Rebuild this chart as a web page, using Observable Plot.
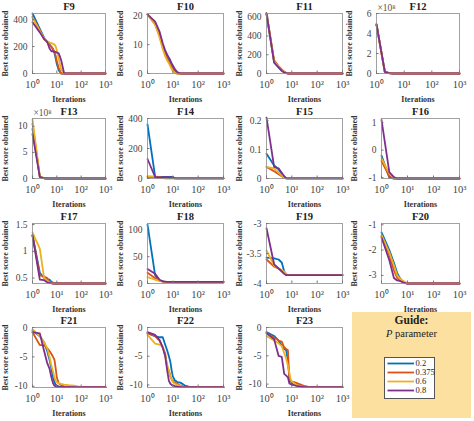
<!DOCTYPE html>
<html><head><meta charset="utf-8">
<script src="https://cdn.jsdelivr.net/npm/d3@7"></script>
<script src="https://cdn.jsdelivr.net/npm/@observablehq/plot@0.6"></script>
<style>
body{margin:0;background:#fff;}
#fig{position:relative;width:474px;height:421px;overflow:hidden;font-family:"Liberation Serif","Times New Roman",serif;background:#fff;}
#fig svg{position:absolute;overflow:visible;}
.guide{position:absolute;left:352px;top:312px;width:119px;height:106px;background:#fbe0a0;}
.gtitle{position:absolute;left:0;width:119px;top:2px;text-align:center;font-weight:bold;font-size:11.5px;color:#222;}
.gsub{position:absolute;left:0;width:119px;top:16px;text-align:center;font-size:10.5px;color:#222;}
.legend{position:absolute;left:32px;top:45px;width:51px;height:42px;background:#fff;border:0.8px solid #555;box-sizing:border-box;}
</style></head>
<body><div id="fig"></div>
<script>
// Common iteration grid (x values); each series lists values on this grid until it reaches its final plateau, which holds to iteration 1000
const iters = [1,2,3,4,5,6,7,8,9,10,12,15,20,30,50,100,1000];
const seriesNames = ["0.2","0.375","0.6","0.8"];
const seriesColors = ["#0072BD","#D95319","#EDB120","#7E2F8E"];
const funcNames = ["F9","F10","F11","F12","F13","F14","F15","F16","F17","F18","F19","F20","F21","F22","F23"];

// series order: 0.2 (blue), 0.375 (orange), 0.6 (yellow), 0.8 (purple)
const F9 = [
  [445,330,265,235,215,195,180,150,110,70,25,0],
  [420,320,255,235,215,200,180,160,130,90,40,0],
  [415,315,260,240,230,225,220,215,200,170,110,30,0],
  [380,305,255,235,185,165,165,160,160,155,150,100,0]];
const F10 = [
  [20.5,17.5,13.5,9.5,7,5.5,4.5,3.5,2.5,1.8,0.8,0],
  [20.5,17,13,9,6.5,5,4,3,2.2,1.5,0.5,0],
  [20.5,17,12.5,8.5,6,4.5,3.5,2.5,1.5,1,0.2,0],
  [20.5,18,14.5,10.5,8,6.5,5.5,4.5,3.5,2.8,1.5,0.5,0]];
const F11 = [
  [640,120,65,30,12,5,0],
  [640,140,80,45,20,8,2,0],
  [640,130,75,35,15,5,0],
  [640,115,65,28,10,3,0]];
const F12 = [
  [4.9,0.2,0.05,0],
  [4.9,0.15,0.03,0],
  [4.9,0.1,0.02,0],
  [4.9,0.15,0.02,0]];
const F13 = [
  [9.5,0.3,0.05,0],
  [10.5,0.3,0.05,0],
  [11.3,0.4,0.1,0],
  [8.5,0.3,0.05,0]];
const F14 = [
  [360,12,11,11,11,11,11,11,11,10,2,1],
  [10,8,5,2,1],
  [15,13,10,5,2,1],
  [130,10,9,9,9,9,8,8,8,8,1]];
const F15 = [
  [0.085,0.045,0.032,0.015,0.005,0.001,0.0003],
  [0.04,0.025,0.015,0.008,0.003,0.0003],
  [0.04,0.035,0.02,0.01,0.004,0.0003],
  [0.21,0.04,0.035,0.02,0.008,0.0003]];
const F16 = [
  [-0.2,-1.0,-1.0316],
  [-0.4,-0.95,-1.0316],
  [-0.3,-0.85,-1.0,-1.0316],
  [1.1,-0.8,-0.98,-1.0316]];
const F17 = [
  [1.3,0.6,0.5,0.48,0.47,0.43,0.41,0.398],
  [1.3,0.55,0.53,0.5,0.42,0.41,0.398],
  [1.35,1.05,0.5,0.45,0.42,0.41,0.398],
  [1.3,0.47,0.46,0.42,0.41,0.4,0.398]];
const F18 = [
  [110,15,5,4,3],
  [20,10,6,4,3],
  [12,7,5,3.5,3],
  [27,18,7,4,3.5,3]];
const F19 = [
  [-3.57,-3.58,-3.6,-3.65,-3.8,-3.85,-3.86],
  [-3.6,-3.72,-3.75,-3.78,-3.82,-3.86],
  [-3.45,-3.7,-3.75,-3.78,-3.8,-3.84,-3.86],
  [-3.08,-3.68,-3.75,-3.8,-3.84,-3.86]];
const F20 = [
  [-1.3,-2,-2.5,-2.9,-3.1,-3.2,-3.25,-3.28,-3.3,-3.31,-3.32],
  [-1.45,-2.2,-2.8,-3.1,-3.2,-3.25,-3.28,-3.3,-3.31,-3.32],
  [-1.4,-2.1,-2.6,-3.0,-3.12,-3.18,-3.22,-3.26,-3.28,-3.3,-3.31,-3.32],
  [-1.5,-2.4,-3.1,-3.2,-3.22,-3.25,-3.28,-3.3,-3.32]];
const F21 = [
  [-0.5,-1.5,-2.5,-4,-5.5,-7,-8.5,-9.3,-9.7,-9.9,-10,-10.1,-10.15],
  [-0.8,-3,-3,-3.5,-4,-4.5,-5,-5.5,-7,-8.5,-9.5,-9.8,-10,-10.15],
  [-0.3,-1.5,-2.5,-3.5,-5,-6.5,-7.5,-8.5,-9,-9.3,-9.5,-9.6,-9.7,-9.8,-9.9,-10.15],
  [-0.8,-1.0,-4,-6,-7,-8.5,-9.5,-9.9,-10,-10.15]];
const F22 = [
  [-1,-1.5,-1.7,-1.7,-3,-4,-5,-6,-7.5,-8.5,-9.2,-9.5,-9.6,-10.1,-10.4],
  [-1,-1.5,-2.3,-3.5,-4.5,-7,-7.5,-8.5,-9,-9.3,-9.6,-9.8,-10.1,-10.4],
  [-1.3,-2.8,-3,-3.3,-5,-6.5,-7.5,-8.5,-9,-9.5,-9.8,-10,-10.2,-10.4],
  [-0.8,-1.3,-2.2,-3.5,-5,-7.5,-9.3,-9.8,-10,-10.1,-10.2,-10.3,-10.4]];
const F23 = [
  [-0.8,-1.5,-2.3,-3.2,-3.8,-4,-6,-8.8,-9.5,-9.8,-10,-10.2,-10.3,-10.4,-10.54],
  [-1,-1.8,-2.3,-2.5,-3.5,-3.8,-4,-9.5,-9.5,-9.6,-9.6,-9.8,-10,-10.3,-10.54],
  [-1.5,-2.3,-2.8,-3.3,-4.5,-5.5,-6.7,-8,-9.2,-9.5,-9.8,-10.2,-10.3,-10.54],
  [-1,-2.1,-5,-5.2,-8.2,-8.5,-8.8,-9.9,-10,-10.1,-10.2,-10.3,-10.4,-10.54]];

const allSeries = [F9,F10,F11,F12,F13,F14,F15,F16,F17,F18,F19,F20,F21,F22,F23];
const yDomains = [[0,445],[0,20.8],[0,640],[0,6],[0,11.5],[0,400],[0,0.207],[-1.0316,1.15],[0.398,1.52],[0,112],[-4,-3],[-3.32,-0.95],[-10.2,0],[-10.45,0],[-10.6,0]];
const yTickValues = [[0,200,400],[0,10,20],[0,200,400,600],[0,2,4,6],[0,5,10],[0,200,400],[0,0.1,0.2],[-1,0,1],[0.5,1,1.5],[0,50,100],[-4,-3.5,-3],[-3,-2,-1],[-10,-5,0],[-10,-5,0],[-10,-5,0]];
const yExponent = ["","","","×10⁸","×10⁸","","","","","","","","","",""];
const xTickValues = [1,10,100,1000];
const xTickLabels = ["10⁰","10¹","10²","10³"];

// layout (box positions)
const colLeft = [32,147,266,381], colWidth = [73,76,76,78];
const rowTop = [13,118,223,327], boxH = 60;

const fig = document.getElementById("fig");
const mL = 36, mR = 6, mT = 16, mB = 34;

allSeries.forEach((ser, k) => {
  const row = Math.floor(k/4), col = k%4;
  let bl = colLeft[col], bw = colWidth[col];
  if (k === 3) { bl = 376; bw = 83; }
  const bt = rowTop[row];
  const data = [];
  ser.forEach((vals, s) => {
    vals.forEach((v, i) => data.push({x: iters[i], y: v, s: seriesNames[s]}));
    data.push({x: 1000, y: vals[vals.length-1], s: seriesNames[s]});
  });
  const marks = [
    Plot.line(data, {x:"x", y:"y", z:"s", stroke:"s", strokeWidth:1.8, strokeLinejoin:"round"}),
    Plot.frame({stroke:"#8c8c8c", strokeWidth:0.8}),
    Plot.axisX({ticks:xTickValues, tickSize:0, tickPadding:7, fontSize:10.5, fill:"#444",
      tickFormat:(d)=>xTickLabels[xTickValues.indexOf(d)], label:null}),
    Plot.axisX({ticks:xTickValues, tickSize:-2.5, stroke:"#777", tickFormat:()=>"", label:null}),
    Plot.axisY({ticks:yTickValues[k], tickSize:0, tickPadding:5, fontSize:9.5, fill:"#444",
      tickFormat:(d)=>String(d), label:null}),
    Plot.axisY({ticks:yTickValues[k], tickSize:-2.5, stroke:"#777", tickFormat:()=>"", label:null}),
    Plot.text([funcNames[k]], {frameAnchor:"top", dy:-7, lineAnchor:"middle", textAnchor:"middle", fontWeight:"bold", fontSize:10.5, fill:"#222"}),
    Plot.text(["Iterations"], {frameAnchor:"bottom", dy:26, lineAnchor:"middle", textAnchor:"middle", fontWeight:"bold", fontSize:8, fill:"#333"}),
    Plot.text(["Best score obtained"], {frameAnchor:"left", dx:-27, rotate:-90, lineAnchor:"middle", textAnchor:"middle", fontWeight:"bold", fontSize:8, fill:"#333"})
  ];
  if (yExponent[k]) marks.push(Plot.text([yExponent[k]], {frameAnchor:"top-left", dx:1, dy:-6, lineAnchor:"middle", textAnchor:"start", fontSize:9.5, fill:"#555"}));
  const p = Plot.plot({
    width: bw + mL + mR, height: boxH + mT + mB,
    marginLeft: mL, marginRight: mR, marginTop: mT, marginBottom: mB,
    style: {fontFamily:'"Liberation Serif","Times New Roman",serif', background:"transparent", overflow:"visible"},
    x: {type:"log", domain:[1,1000]},
    y: {domain: yDomains[k]},
    color: {domain: seriesNames, range: seriesColors},
    marks
  });
  p.style.left = (bl - mL) + "px";
  p.style.top = (bt - mT) + "px";
  fig.appendChild(p);
});

// Guide box with legend
const guide = document.createElement("div");
guide.className = "guide";
guide.innerHTML = '<div class="gtitle">Guide:</div><div class="gsub"><i>P</i> parameter</div>';
const leg = document.createElement("div");
leg.className = "legend";
const ns = "http://www.w3.org/2000/svg";
const lsvg = document.createElementNS(ns, "svg");
lsvg.setAttribute("width", 50); lsvg.setAttribute("height", 41);
lsvg.style.position = "absolute"; lsvg.style.left = "0px"; lsvg.style.top = "0px";
seriesNames.forEach((name, i) => {
  const y = 5.5 + i*9;
  const ln = document.createElementNS(ns, "line");
  ln.setAttribute("x1", 2.5); ln.setAttribute("x2", 29); ln.setAttribute("y1", y); ln.setAttribute("y2", y);
  ln.setAttribute("stroke", seriesColors[i]); ln.setAttribute("stroke-width", 1.8);
  lsvg.appendChild(ln);
  const t = document.createElementNS(ns, "text");
  t.setAttribute("x", 30.5); t.setAttribute("y", y); t.setAttribute("dy", "0.35em");
  t.setAttribute("font-size", 8.5); t.setAttribute("fill", "#222");
  t.setAttribute("font-family", '"Liberation Serif",serif');
  t.textContent = name;
  lsvg.appendChild(t);
});
leg.appendChild(lsvg);
guide.appendChild(leg);
fig.appendChild(guide);
</script>
</body></html>
